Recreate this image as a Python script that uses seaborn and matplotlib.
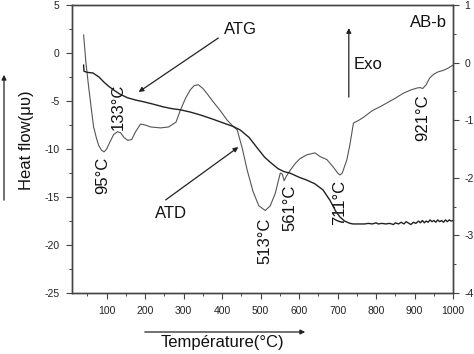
import numpy as np
import pandas as pd
import matplotlib
matplotlib.use("Agg")
import matplotlib.pyplot as plt
from matplotlib.ticker import MultipleLocator
import seaborn as sns

# DTA (ATD) curve, left axis
dta_temp = [40, 46, 53, 60, 66, 73, 79, 86, 93, 100, 108, 118, 128, 136, 145, 155, 165, 175, 188,
            200, 214, 240, 261, 280, 292, 305, 317, 327, 338, 350, 362, 377, 395, 413, 430, 439,
            452, 465, 480, 495, 512, 525, 538, 546, 551, 556, 561, 567, 577, 590, 602, 620, 641,
            655, 672, 689, 700, 706, 712, 718, 724, 732, 741, 755, 767, 790, 810, 828, 850, 870,
            890, 906, 914, 921, 930, 939, 950, 960, 975, 986, 1000]
dta_flow = [1.9, -1.0, -3.5, -5.8, -7.7, -8.8, -9.6, -10.1, -10.3, -10.0, -9.3, -8.5, -8.2, -8.3,
            -8.8, -9.1, -9.0, -8.2, -7.4, -7.5, -7.7, -7.8, -7.7, -7.2, -5.9, -4.7, -3.85, -3.4,
            -3.3, -3.7, -4.3, -5.1, -6.0, -7.0, -7.7, -8.0, -9.9, -12.2, -14.4, -15.9, -16.4,
            -15.9, -14.6, -13.3, -12.5, -12.6, -13.3, -12.8, -12.2, -11.5, -11.0, -10.6, -10.4,
            -10.8, -11.1, -11.9, -12.5, -12.7, -12.5, -11.8, -11.1, -9.5, -7.3, -7.0, -6.7, -6.0,
            -5.6, -5.2, -4.7, -4.2, -3.85, -3.65, -3.6, -3.7, -3.3, -2.6, -2.2, -1.98, -1.8,
            -1.6, -1.25]

# TGA (ATG) curve, right axis
tga_temp = [40, 41, 50, 64, 80, 93, 105, 119, 135, 154, 175, 196, 220, 248, 270, 292, 318, 344,
            375, 404, 429, 447, 470, 491, 510, 525, 545, 560, 577, 600, 620, 640, 662, 680, 695,
            706, 718, 732, 740, 750, 760, 770, 780, 790, 800, 805, 815, 825, 835, 845, 850, 858,
            865, 872, 878, 885, 890, 897, 903, 910, 915, 920, 925, 930, 935, 940, 945, 950, 955,
            960, 965, 970, 975, 980, 985, 990, 995, 1000]
tga_mass = [-0.04, -0.15, -0.17, -0.18, -0.25, -0.34, -0.41, -0.48, -0.55, -0.61, -0.65, -0.68,
            -0.72, -0.77, -0.80, -0.82, -0.86, -0.91, -0.98, -1.05, -1.11, -1.17, -1.30, -1.48,
            -1.64, -1.73, -1.84, -1.89, -1.92, -1.99, -2.04, -2.10, -2.21, -2.39, -2.58, -2.68,
            -2.75, -2.79, -2.80, -2.80, -2.80, -2.80, -2.79, -2.80, -2.78, -2.80, -2.79, -2.80,
            -2.79, -2.81, -2.78, -2.80, -2.77, -2.80, -2.76, -2.79, -2.81, -2.77, -2.79, -2.75,
            -2.78, -2.74, -2.78, -2.75, -2.77, -2.73, -2.76, -2.74, -2.77, -2.73, -2.76, -2.74,
            -2.77, -2.73, -2.76, -2.73, -2.75, -2.74]

# peak labels: (text, x, y) in left-axis data units
peak_labels = [("95°C", 90, -12.7), ("133°C", 131, -5.6), ("513°C", 512, -19.6),
               ("561°C", 577, -16.1), ("711°C", 704, -15.6), ("921°C", 921, -6.7)]

df_dta = pd.DataFrame({"temp": dta_temp, "flow": dta_flow})
df_tga = pd.DataFrame({"temp": tga_temp, "mass": tga_mass})

sns.set_style("ticks")
plt.rcParams["font.family"] = ["Liberation Sans", "DejaVu Sans"]
plt.rcParams["axes.unicode_minus"] = False

fig = plt.figure(figsize=(4.74, 3.54), dpi=100)
ax = fig.add_axes([0.152, 0.172, 0.804, 0.814])
ax2 = ax.twinx()

sns.lineplot(data=df_dta, x="temp", y="flow", ax=ax, color="#555555", linewidth=0.8,
             estimator=None, sort=False)
sns.lineplot(data=df_tga, x="temp", y="mass", ax=ax2, color="#222222", linewidth=1.0,
             estimator=None, sort=False)

ax.set_xlim(10, 1000)
ax.set_ylim(-25, 5)
ax2.set_ylim(-4, 1)
ax.set_xticks([100, 200, 300, 400, 500, 600, 700, 800, 900, 1000])
ax.xaxis.set_minor_locator(MultipleLocator(50))
ax.set_yticks([5, 0, -5, -10, -15, -20, -25])
ax.yaxis.set_minor_locator(MultipleLocator(2.5))
ax2.set_yticks([1, 0, -1, -2, -3, -4])
ax2.yaxis.set_minor_locator(MultipleLocator(0.5))
ax.set_xlabel("")
ax.set_ylabel("")
ax2.set_ylabel("")

for a in (ax, ax2):
    for s in a.spines.values():
        s.set_visible(True)
        s.set_color("#444444")
        s.set_linewidth(1.0)
    a.tick_params(which="major", direction="out", length=4, width=0.8, color="#444444",
                  labelsize=7.5, labelcolor="#222222", pad=2)
    a.tick_params(which="minor", direction="out", length=2.5, width=0.7, color="#444444")
ax.tick_params(axis="x", pad=5)
ax.tick_params(axis="y", pad=5)
ax2.tick_params(axis="y", pad=4)

for txt, x, y in peak_labels:
    ax.text(x, y, txt, rotation=90, fontsize=12, ha="center", va="center", color="#111111")

ax.text(447, 2.4, "ATG", fontsize=12, ha="center", va="center", color="#111111")
ax.text(266, -16.7, "ATD", fontsize=12, ha="center", va="center", color="#111111")
ax.text(937, 3.2, "AB-b", fontsize=12, ha="center", va="center", color="#111111")
ax.text(779, -1.25, "Exo", fontsize=12, ha="center", va="center", color="#111111")

arrow = dict(arrowstyle="-|>", color="#222222", lw=0.9, mutation_scale=7, shrinkA=0, shrinkB=0)
ax.annotate("", xy=(729, 2.6), xytext=(729, -4.6), arrowprops=arrow)
ax.annotate("", xy=(183, -4.06), xytext=(390, 1.56), arrowprops=arrow)
ax.annotate("", xy=(442, -9.8), xytext=(253, -15.3), arrowprops=arrow)

# axis titles with their arrows
fig.text(26 / 474, 1 - 140 / 354, "Heat flow(μυ)", rotation=90, fontsize=12,
         ha="center", va="center", color="#111111")
fig.text(222 / 474, 1 - 343 / 354, "Température(°C)", fontsize=12,
         ha="center", va="center", color="#111111")
fig.add_artist(matplotlib.patches.FancyArrowPatch(
    (4 / 474, 1 - 203 / 354), (4 / 474, 1 - 72 / 354), transform=fig.transFigure,
    arrowstyle="-|>", color="#222222", lw=0.9, mutation_scale=7))
fig.add_artist(matplotlib.patches.FancyArrowPatch(
    (142 / 474, 1 - 332 / 354), (308 / 474, 1 - 332 / 354), transform=fig.transFigure,
    arrowstyle="-|>", color="#222222", lw=0.9, mutation_scale=7))

fig.savefig("out.png", dpi=100)
